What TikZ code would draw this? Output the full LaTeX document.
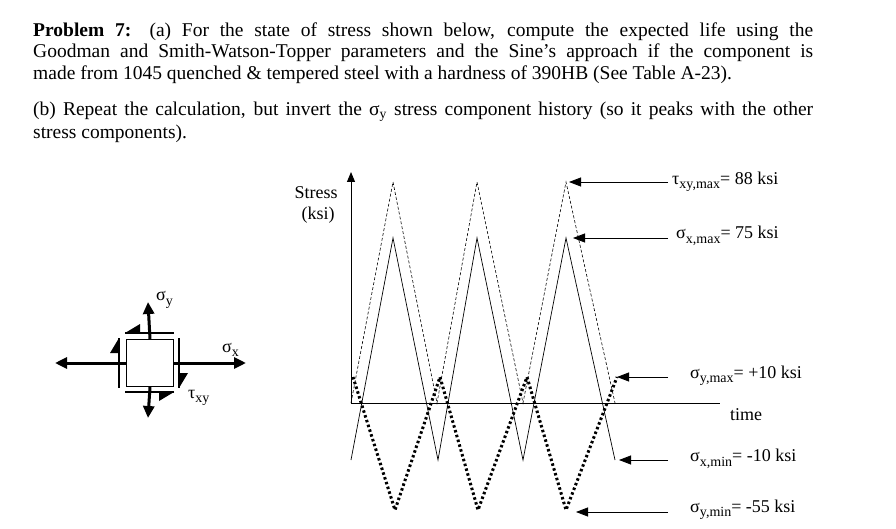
\documentclass[tikz,border=0pt]{standalone}
\usepackage{fontspec}
\setmainfont{Liberation Serif}
\usetikzlibrary{arrows.meta}
\tikzset{
 ln/.style={anchor=west,text width=780pt,align=justify,inner sep=0pt,font=\fontsize{19.5}{22}\selectfont},
 lbl/.style={anchor=west,inner sep=0pt,font=\fontsize{18}{21}\selectfont},
 ptr/.style={-{Triangle[length=12pt,width=9pt]},line width=0.8pt},
 fat/.style={-{Triangle[length=12pt,width=11pt]},line width=3pt},
 tau/.style={dash pattern=on 3pt off 2pt,line width=0.6pt},
 sx/.style={line width=0.7pt},
 sy/.style={dash pattern=on 2.5pt off 2.5pt,line width=3pt},
}
\newcommand{\lastline}[1]{{\parfillskip=0pt plus 1fil #1\par}}
\newcommand{\fullline}[1]{{\parfillskip=0pt #1\par}}
\newcommand{\sbs}[1]{\raisebox{-0.25em}{\fontsize{14}{14}\selectfont #1}}
\begin{document}
\begin{tikzpicture}[x=1pt,y=-1pt]
\useasboundingbox[fill=white] (0,0) rectangle (896,529);
\node[ln] (l1) at (33,32) {\fullline{\textbf{Problem 7:} (a) For the state of stress shown below, compute the expected life using the}};
\node[ln] (l2) at (33,53) {\fullline{Goodman and Smith-Watson-Topper parameters and the Sine's approach if the component is}};
\node[ln] (l3) at (33,75) {\lastline{made from 1045 quenched \& tempered steel with a hardness of 390HB (See Table A-23).}};
\node[ln] (l4) at (33,112) {\fullline{(b) Repeat the calculation, but invert the σ\textsubscript{y} stress component history (so it peaks with the other}};
\node[ln] (l5) at (33,134) {\lastline{stress components).}};
% axes
\coordinate (o) at (351,403);
\coordinate (ytop) at (351,172);
\coordinate (xend) at (720,403);
\draw[line width=1pt,-{Triangle[length=10pt,width=8pt]}] (o) -- (ytop);
\draw[line width=1pt] (o) -- (xend);
\node[lbl,anchor=center] (st) at (316,193) {Stress};
\node[lbl,anchor=center] (ks) at (318,215) {(ksi)};
\node[lbl,anchor=center] (tm) at (746,415) {time};
% curves
\draw[tau] (351,403) -- (393,182) -- (437,403) -- (477,182) -- (523,403) -- (566,182) -- (615,403);
\draw[sx] (351,460) -- (393,238) -- (438,460) -- (477,238) -- (523,460) -- (566,238) -- (615,460);
\draw[sy] (353,377) -- (395,510) -- (440,377) -- (478,510) -- (527,377) -- (566,510) -- (617,377);
% pointers
\coordinate (p1) at (668,182); \coordinate (t1) at (569,182);
\coordinate (p2) at (668,238); \coordinate (t2) at (573,238);
\coordinate (p3) at (668,377); \coordinate (t3) at (617,377);
\coordinate (p4) at (668,460); \coordinate (t4) at (619,460);
\coordinate (p5) at (668,512); \coordinate (t5) at (576,512);
\foreach \i in {1,...,5} \draw[ptr] (p\i) -- (t\i);
\node[lbl] (a1) at (672,182) {τ\sbs{xy,max}= 88 ksi};
\node[lbl] (a2) at (676,236) {σ\sbs{x,max}= 75 ksi};
\node[lbl] (a3) at (690,376) {σ\sbs{y,max}= +10 ksi};
\node[lbl] (a4) at (690,459) {σ\sbs{x,min}= -10 ksi};
\node[lbl] (a5) at (690,510) {σ\sbs{y,min}= -55 ksi};
% element
\node[draw,line width=0.8pt,minimum width=47pt,minimum height=47pt,inner sep=0pt] (sq) at (150,363) {};
\coordinate (xl) at (55,363); \coordinate (xr) at (246,363);
\coordinate (yt) at (148,302); \coordinate (yb) at (148,418);
\draw[fat] (sq.west) -- (xl);
\draw[fat] (sq.east) -- (xr);
\draw[fat] (sq.north) -- (yt);
\draw[fat] (sq.south) -- (yb);
\draw[line width=1.3pt] (125,333) -- (174,333);
\draw[line width=1.3pt] (125,392) -- (174,392);
\draw[line width=1.3pt] (119,338) -- (119,388);
\draw[line width=1.3pt] (179,338) -- (179,388);
\fill (125,333) -- (140,324) -- (140,333) -- cycle;
\fill (174,392) -- (159,401) -- (159,392) -- cycle;
\fill (119,338) -- (110,353) -- (119,353) -- cycle;
\fill (179,388) -- (188,373) -- (179,373) -- cycle;
\node[lbl] (ly) at (156,300) {σ\sbs{y}};
\node[lbl] (lx) at (222,350) {σ\sbs{x}};
\node[lbl] (lt) at (188,398) {τ\sbs{xy}};
\end{tikzpicture}
\end{document}
